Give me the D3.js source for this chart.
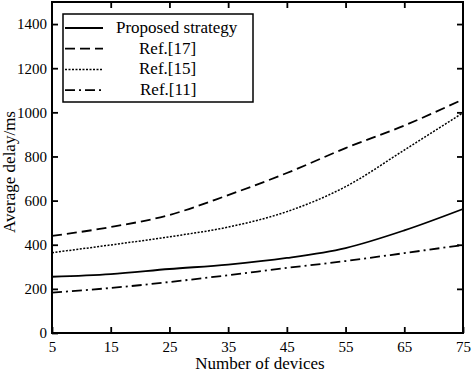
<!DOCTYPE html>
<html>
<head>
<meta charset="utf-8">
<script src="https://cdn.jsdelivr.net/npm/d3@7"></script>
<style>
  body { margin: 0; background: #fff; }
</style>
</head>
<body>
<script>
// number of devices
var devices = [5, 15, 25, 35, 45, 55, 65, 75];

// average delay (ms)
var proposed = [255, 267, 290, 310, 340, 385, 465, 562];
var ref17    = [440, 480, 535, 625, 725, 838, 940, 1059];
var ref15    = [364, 399, 436, 480, 550, 663, 829, 998];
var ref11    = [183, 204, 231, 262, 295, 326, 362, 399];

var xTicks = [5, 15, 25, 35, 45, 55, 65, 75];
var yTicks = [0, 200, 400, 600, 800, 1000, 1200, 1400];

var series = [
  {name: "Proposed strategy", values: proposed, dash: null,          lx: 116},
  {name: "Ref.[17]",          values: ref17,    dash: "10,5",        lx: 139},
  {name: "Ref.[15]",          values: ref15,    dash: "2,1.5",       lx: 139},
  {name: "Ref.[11]",          values: ref11,    dash: "10,4,2,4",    lx: 140}
];

var serif = "'Liberation Serif', 'Times New Roman', Times, serif";

var width = 474, height = 372,
    plotL = 52, plotR = 463, plotT = 2, plotB = 333;

var svg = d3.select("body").append("svg")
    .attr("width", width)
    .attr("height", height)
    .style("font-family", serif);

var x = d3.scaleLinear().domain([5, 75]).range([plotL, plotR]);
var y = d3.scaleLinear().domain([0, 1500]).range([plotB, plotT]);

// axes, ticks pointing inward
var gx = svg.append("g")
    .attr("transform", "translate(0," + plotB + ")")
    .call(d3.axisBottom(x).tickValues(xTicks).tickSize(-6).tickPadding(8).tickFormat(d3.format("d")));
var gy = svg.append("g")
    .attr("transform", "translate(" + plotL + ",0)")
    .call(d3.axisLeft(y).tickValues(yTicks).tickSize(-6).tickPadding(5).tickFormat(d3.format("d")));
var gt = svg.append("g")
    .attr("transform", "translate(0," + plotT + ")")
    .call(d3.axisTop(x).tickValues(xTicks.slice(1, -1)).tickSize(-6).tickFormat(""));
var gr = svg.append("g")
    .attr("transform", "translate(" + plotR + ",0)")
    .call(d3.axisRight(y).tickValues(yTicks.slice(1)).tickSize(-6).tickFormat(""));

[gx, gy, gt, gr].forEach(function(g) {
  g.select(".domain").remove();
  g.attr("font-family", serif).attr("font-size", 15);
  g.selectAll(".tick line").attr("stroke", "#000").attr("stroke-width", 1.8);
  g.selectAll(".tick text").style("font-family", serif).style("font-size", "15px").attr("fill", "#000");
});

svg.append("rect")
    .attr("x", plotL).attr("y", plotT)
    .attr("width", plotR - plotL).attr("height", plotB - plotT)
    .attr("fill", "none").attr("stroke", "#000").attr("stroke-width", 2);

// lines
var line = d3.line()
    .x(function(d, i) { return x(devices[i]); })
    .y(function(d) { return y(d); })
    .curve(d3.curveMonotoneX);

svg.selectAll(".series")
    .data(series)
  .enter().append("path")
    .attr("class", "series")
    .attr("d", function(d) { return line(d.values); })
    .attr("fill", "none")
    .attr("stroke", "#000")
    .attr("stroke-width", function(d) { return d.dash === "2,1.5" ? 1.5 : 1.8; })
    .attr("stroke-dasharray", function(d) { return d.dash; });

// legend
var legend = svg.append("g");
legend.append("rect")
    .attr("x", 63).attr("y", 14)
    .attr("width", 190).attr("height", 88)
    .attr("fill", "#fff").attr("stroke", "#000").attr("stroke-width", 1.5);

var item = legend.selectAll(".item")
    .data(series)
  .enter().append("g")
    .attr("class", "item")
    .attr("transform", function(d, i) { return "translate(0," + (28 + i * 20.7) + ")"; });

item.append("line")
    .attr("x1", 65).attr("x2", 103)
    .attr("stroke", "#000")
    .attr("stroke-width", function(d) { return d.dash === "2,1.5" ? 1.5 : 1.8; })
    .attr("stroke-dasharray", function(d) { return d.dash; });

item.append("text")
    .attr("x", function(d) { return d.lx; })
    .attr("y", 5)
    .style("font-family", serif)
    .style("font-size", "17px")
    .text(function(d) { return d.name; });

// axis titles
svg.append("text")
    .attr("x", 260).attr("y", 369)
    .attr("text-anchor", "middle")
    .style("font-family", serif)
    .style("font-size", "17px")
    .text("Number of devices");

svg.append("text")
    .attr("transform", "translate(15,172) rotate(-90)")
    .attr("text-anchor", "middle")
    .style("font-family", serif)
    .style("font-size", "17px")
    .text("Average delay/ms");
</script>
</body>
</html>
